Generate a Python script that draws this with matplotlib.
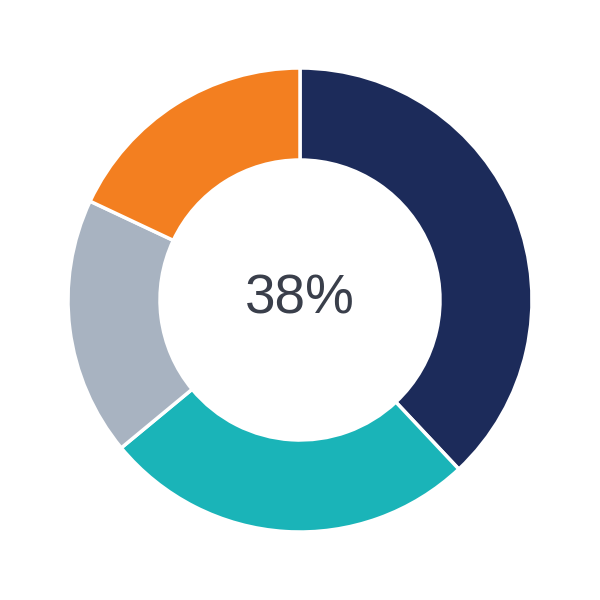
import matplotlib.pyplot as plt

# Segment values (clockwise from 12 o'clock)
labels = ['A', 'B', 'C', 'D']
values = [38, 26, 18, 18]
colors = ['#1c2b5a', '#1ab4b8', '#a8b3c1', '#f37f20']
center_text = '38%'

fig, ax = plt.subplots(figsize=(6, 6), dpi=100)
fig.subplots_adjust(left=0, right=1, bottom=0, top=1)

outer_r = 2.32
ax.pie(values, colors=colors, startangle=90, counterclock=False,
       radius=outer_r,
       wedgeprops=dict(width=outer_r - 1.40, edgecolor='white', linewidth=2.5))

ax.text(0, 0, center_text, ha='center', va='center', fontsize=39.5,
        color='#3a3f4b', family=['Liberation Sans', 'DejaVu Sans'])

ax.set_xlim(-3, 3)
ax.set_ylim(-3, 3)
ax.set_aspect('equal')
ax.axis('off')

fig.savefig('out.png', dpi=100, facecolor='white')
